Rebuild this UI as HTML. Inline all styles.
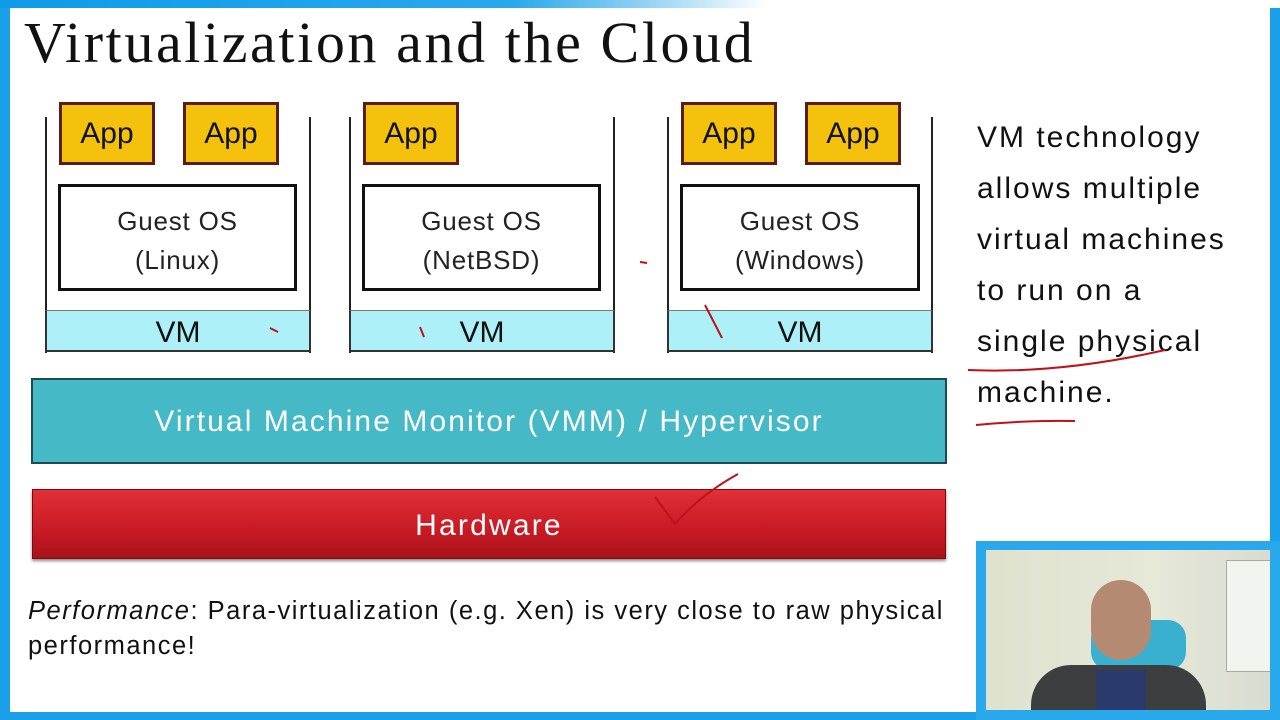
<!DOCTYPE html>
<html><head><style>
body{margin:0;width:1280px;height:720px;overflow:hidden;background:#1aa0e8;position:relative;font-family:"Liberation Sans","DejaVu Sans",sans-serif}
.slide{position:absolute;left:10px;top:8px;width:1260px;height:704px;background:#fff}
.a{position:absolute}
.t{position:absolute;left:24px;top:9px;font-family:"Liberation Serif",serif;font-size:58px;color:#111;letter-spacing:2.6px}
.app{position:absolute;width:90px;height:57px;background:#f4c20d;border:3px solid #5a1d12;font-size:30px;text-align:center;line-height:58px;color:#111;box-sizing:content-box}
.os{position:absolute;height:107px;border:3px solid #111;background:#fff;font-size:26px;text-align:center;line-height:39px;padding-top:15px;box-sizing:border-box;color:#222;letter-spacing:0.8px}
.vl{position:absolute;width:2px;background:#222;top:117px;height:236px}
.vm{position:absolute;top:310px;height:42px;background:#aef0f8;border:2px solid #333;border-top:1px solid #777;font-size:30px;text-align:center;line-height:44px;box-sizing:border-box;color:#111}
.r{position:absolute;left:977px;font-size:30px;color:#111;line-height:51px;top:112px;letter-spacing:2px}
</style></head><body>
<div class="a" style="left:0;top:0;width:1280px;height:8px;background:linear-gradient(90deg,#0f9be8 0,#29a8ec 40%,#8fd0f2 50%,#fff 60%,#fff 100%)"></div>
<div class="slide"></div>
<div class="t">Virtualization and the Cloud</div>

<div class="vl" style="left:45px"></div><div class="vl" style="left:309px"></div>
<div class="vl" style="left:349px"></div><div class="vl" style="left:613px"></div>
<div class="vl" style="left:667px"></div><div class="vl" style="left:931px"></div>

<div class="app" style="left:59px;top:102px">App</div>
<div class="app" style="left:183px;top:102px">App</div>
<div class="app" style="left:363px;top:102px">App</div>
<div class="app" style="left:681px;top:102px">App</div>
<div class="app" style="left:805px;top:102px">App</div>

<div class="os" style="left:58px;top:184px;width:239px">Guest OS<br>(Linux)</div>
<div class="os" style="left:362px;top:184px;width:239px">Guest OS<br>(NetBSD)</div>
<div class="os" style="left:680px;top:184px;width:240px">Guest OS<br>(Windows)</div>

<div class="vm" style="left:45px;width:266px">VM</div>
<div class="vm" style="left:349px;width:266px">VM</div>
<div class="vm" style="left:667px;width:266px">VM</div>

<div class="a" style="left:31px;top:378px;width:916px;height:86px;background:#45b9c5;border:2px solid #1e4a50;box-sizing:border-box;color:#fff;font-size:30px;text-align:center;line-height:84px;letter-spacing:2.1px">Virtual Machine Monitor (VMM) / Hypervisor</div>
<div class="a" style="left:32px;top:489px;width:914px;height:70px;background:linear-gradient(#e0303a,#c81a24 60%,#a8121a);border:1px solid #7a0a10;box-sizing:border-box;color:#fff;font-size:30px;text-align:center;line-height:72px;box-shadow:0 2px 3px #888;letter-spacing:2.2px">Hardware</div>

<div class="a" style="left:28px;top:594px;font-size:25.5px;color:#111;line-height:35px;letter-spacing:1.5px;white-space:nowrap"><i>Performance</i>: Para-virtualization (e.g. Xen) is very close to raw physical<br>performance!</div>

<div class="r">VM technology<br>allows multiple<br>virtual machines<br>to run on a<br>single physical<br>machine.</div>

<svg class="a" style="left:0;top:0" width="1280" height="720">
<path d="M968 370 Q1060 374 1165 350" stroke="#c0101a" stroke-width="2" fill="none"/>
<path d="M976 425 Q1030 420 1075 421" stroke="#c0101a" stroke-width="2" fill="none"/>
<path d="M655 497 L675 524 Q700 495 738 474" stroke="#c0101a" stroke-width="2" fill="none"/>
<path d="M705 305 L722 338" stroke="#c0101a" stroke-width="2"/>
<path d="M640 262 L647 263" stroke="#c0101a" stroke-width="2"/>
<path d="M270 328 L278 332" stroke="#c0101a" stroke-width="2"/>
<path d="M420 327 L424 337" stroke="#c0101a" stroke-width="2"/>
</svg>

<div class="a" style="left:976px;top:541px;width:304px;height:179px;background:#2aa8ec"></div>
<div class="a" style="left:986px;top:550px;width:284px;height:160px;background:linear-gradient(90deg,#dfe2cf,#e6e8d8 60%,#d8dcd0);overflow:hidden">
 <div class="a" style="left:240px;top:10px;width:44px;height:110px;background:#f2f4f0;border:1px solid #aaa"></div>
 <div class="a" style="left:105px;top:70px;width:95px;height:50px;background:#3ab0d0;border-radius:18px"></div>
 <div class="a" style="left:45px;top:115px;width:175px;height:60px;background:#3c3e40;border-radius:40px 40px 0 0"></div>
 <div class="a" style="left:110px;top:120px;width:50px;height:45px;background:#2a3a6a"></div>
 <div class="a" style="left:105px;top:30px;width:60px;height:80px;background:#b58a72;border-radius:30px"></div>
</div>
</body></html>
